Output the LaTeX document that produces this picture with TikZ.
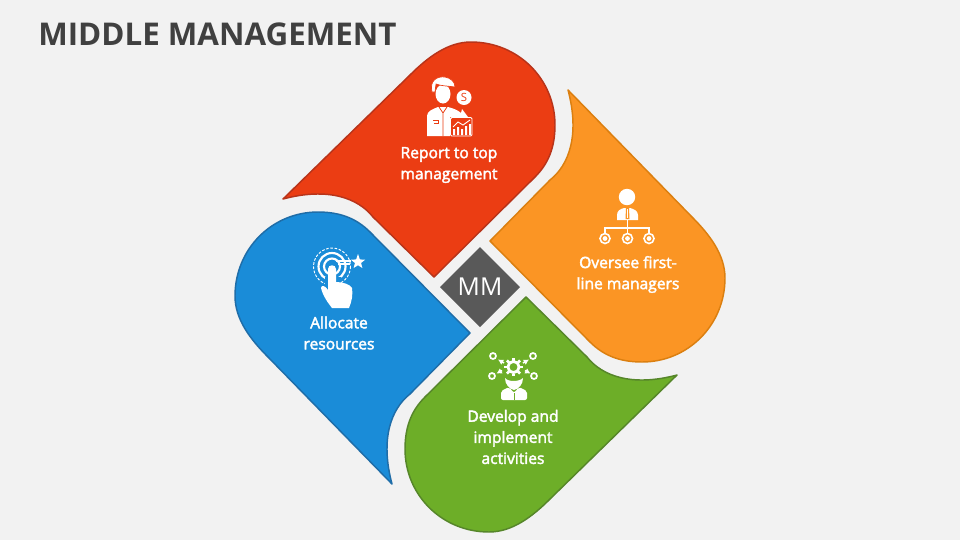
\documentclass[tikz,border=0pt]{standalone}
\usepackage{fontspec}
\setmainfont{Open Sans}
\newfontfamily\labelfont[FakeBold=2.5]{Open Sans}
\usetikzlibrary{arrows.meta}
\definecolor{pagebg}{HTML}{F2F2F2}
\definecolor{titlegray}{HTML}{404040}
\definecolor{centergray}{HTML}{595959}
\definecolor{redfill}{HTML}{EB3D13}
\definecolor{redline}{HTML}{B8341A}
\definecolor{orangefill}{HTML}{FB9524}
\definecolor{orangeline}{HTML}{DB7F10}
\definecolor{greenfill}{HTML}{6DAE28}
\definecolor{greenline}{HTML}{56862A}
\definecolor{bluefill}{HTML}{1A8CD8}
\definecolor{blueline}{HTML}{1F6DA8}
\tikzset{
  petal/.style={line width=1.1pt, line join=round},
  label/.style={text=white, align=center, font=\fontsize{11.7}{15.8}\selectfont\labelfont},
  icon/.style={fill=white, draw=none},
  iconline/.style={draw=white, fill=none, line width=1pt},
  arrowline/.style={iconline, line width=1.2pt, -{Latex[length=4pt,width=4.5pt]}},
}
\newcommand{\petalpath}{(283,199) -- (410,75) .. controls (428,57) and (448,42) .. (471,42)
	.. controls (518,42) and (555,79) .. (555,125) .. controls (555,148) and (548,164) .. (535,177)
	-- (434,277) -- (373,217) .. controls (358,198) and (328,187) .. (283,199) -- cycle}
\begin{document}
\begin{tikzpicture}[x=0.75pt, y=-0.75pt]
	\fill[pagebg] (0,0) rectangle (960,540);
	\useasboundingbox (0,0) rectangle (960,540);

	\node[anchor=west, inner sep=0pt, text=titlegray, font=\fontsize{23.5}{28}\selectfont\bfseries] (title) at (38,34) {MIDDLE MANAGEMENT};

	% petals
	\foreach \ang/\fillcol/\linecol in {0/redfill/redline, -90/orangefill/orangeline, -180/greenfill/greenline, -270/bluefill/blueline} {
		\draw[petal, draw=\linecol, fill=\fillcol, rotate around={\ang:(480,287)}] \petalpath;
	}

	% centre
	\draw[fill=centergray, draw=none] (480,247) -- (520,287) -- (480,327) -- (440,287) -- cycle;
	\node[text=white, font=\fontsize{18.5}{24}\selectfont] (mm) at (480,287) {MM};

	% labels
	\node[label] (report) at (449,165) {Report to top\\management};
	\node[label] (oversee) at (628,274.5) {Oversee first-\\line managers};
	\node[label] (allocate) at (339,333) {Allocate\\resources};
	\node[label] (develop) at (513,437) {Develop and\\implement\\activities};

	% icon: manager with chart
	\fill[icon] (443,94) ellipse (7.5 and 9.5);
	\draw[icon, draw=redfill, line width=0.5pt] (432,92) .. controls (429,80) and (438,76) .. (445,77) .. controls (450,78) and (455,81) .. (455,87)
		.. controls (448,86) and (441,86) .. (436,84) -- (435,92) -- cycle;
	\fill[icon] (427,136) -- (427,116) .. controls (427,111) and (433,109) .. (438,107) -- (448,107)
		.. controls (452,108) and (458,110) .. (461,113) -- (462,109) -- (468,117) -- (450,117) -- (450,136) -- cycle;
	\draw[draw=redfill, line width=0.6pt] (439,107) -- (443,113) -- (447,107) (443,113) -- (443,136);
	\draw[draw=redfill, line width=0.6pt] (433,120) -- (438,120) -- (438,123) -- (434,123);
	\draw[iconline, line width=0.7pt, rounded corners=1pt] (450.5,117.5) rectangle (472,136);
	\fill[icon] (453,135) rectangle (455,129) (457,135) rectangle (459,127) (461,135) rectangle (463,129) (465,135) rectangle (467,126) (469,135) rectangle (471,124);
	\draw[iconline, line width=0.7pt] (453,127) -- (458,122) -- (463,125) -- (470,120);
	\fill[icon] (464,97.5) circle (7.5);
	\node[text=redfill, inner sep=0pt, font=\fontsize{8.5}{8.5}\selectfont] (dollar) at (464,97.5) {S};

	% icon: person with tree
	\fill[icon] (627,197) circle (8.2);
	\fill[icon] (617,220) -- (617,215) .. controls (617,211) and (620,209) .. (624,208) -- (630,208)
		.. controls (634,209) and (638,211) .. (638,215) -- (638,220) -- cycle;
	\fill[orangefill] (626,208) -- (629,208) -- (629.5,219) -- (625.5,219) -- cycle;
	\fill[icon] (626.5,209) rectangle (628,218);
	\draw[iconline, line width=1.2pt] (627.5,220) -- (627.5,228) (605,233) -- (605,228) -- (649,228) -- (649,233) (627.5,228) -- (627.5,233);
	\foreach \x in {605,627.5,649} {
		\draw[iconline, line width=1.2pt] (\x,238.5) circle (5);
		\fill[icon] (\x,238.5) circle (2.4);
	}

	% icon: target and hand
	\draw[iconline, line width=0.7pt, dash pattern=on 2pt off 1.2pt] (332,266.5) circle (18.5);
	\draw[iconline, line width=1.6pt] (332,266.5) circle (13.5);
	\draw[iconline, line width=1.6pt] (332,266.5) circle (8);
	\draw[iconline, line width=0.9pt] (336,261) -- (351,261) (338,264) -- (350,264);
	\fill[icon] (358.0,254.0) \foreach \a in {1,...,9} { -- ({358+(mod(\a,2)==0 ? 7.5 : 3.2)*sin(36*\a)}, {262-(mod(\a,2)==0 ? 7.5 : 3.2)*cos(36*\a)}) } -- cycle;
	\fill[bluefill] (325,277) rectangle (341,300);
	\fill[icon] (328,269) .. controls (328,264) and (336,264) .. (336,269) -- (336,282)
		.. controls (342,282) and (350,284) .. (352,288) .. controls (353,294) and (352,301) .. (349,308)
		-- (332,308) .. controls (328,303) and (323,296) .. (321,288) .. controls (321,285) and (325,285) .. (328,290) -- cycle;

	% icon: gear, head and arrows
	\fill[icon] (505,378) .. controls (508,382) and (519,382) .. (523,378) .. controls (523,384) and (519,389) .. (514,390)
		.. controls (509,389) and (505,384) .. (505,378) -- cycle;
	\fill[icon, rounded corners=1.5pt] (501,400) -- (501,391) -- (509,387) -- (514,393) -- (519,387) -- (527,391) -- (527,400) -- cycle;
	\draw[draw=greenfill, line width=0.6pt] (514,393) -- (514,400);
	\draw[iconline, line width=2.1pt] (513.5,367) circle (5.6);
	\foreach \a in {0,45,...,315} {
		\draw[iconline, line width=2pt] (513.5,367) ++(\a:6.5) -- ++(\a:2.8);
	}
	\foreach \cx/\cy in {493/356, 533/356, 492/376, 534/376} {
		\draw[iconline, line width=1.3pt] (\cx,\cy) circle (3);
	}
	\draw[arrowline] (504,363) -- (498,359.5);
	\draw[arrowline] (523,363) -- (529,359.5);
	\draw[arrowline] (502,370.5) -- (496.5,373.5);
	\draw[arrowline] (525,370.5) -- (530.5,373.5);
\end{tikzpicture}
\end{document}
